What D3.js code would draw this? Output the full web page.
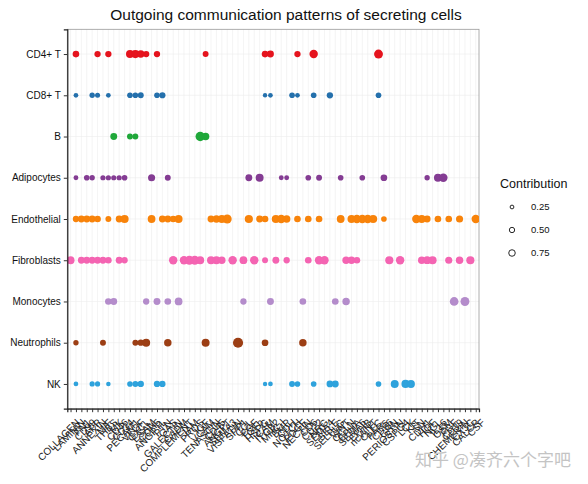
<!DOCTYPE html>
<html>
<head>
<meta charset="utf-8">
<script src="https://cdn.jsdelivr.net/npm/d3@7"></script>
<style>
  body { margin: 0; background: #fff; }
  svg { font-family: "Liberation Sans", Arial, sans-serif; }
</style>
</head>
<body>
<div id="chart"></div>
<script>
const cellTypes = ['CD4+ T', 'CD8+ T', 'B', 'Adipocytes', 'Endothelial', 'Fibroblasts', 'Monocytes', 'Neutrophils', 'NK'];
const cellColors = ['#E5131D', '#2470AC', '#20A83A', '#843C93', '#F8830A', '#F464B2', '#B48CCB', '#9C3E14', '#2EA2DC'];

const pathways = ['COLLAGEN', 'LAMININ', 'FN1', 'CD99', 'APP', 'ANNEXIN', 'MIF', 'THBS', 'MK', 'CD46',
  'CD34', 'PECAM1', 'VEGF', 'CXCL', 'ESAM', 'CDH5', 'ANGPTL', 'PTN', 'GAS', 'GALECTIN',
  'CADM', 'COMPLEMENT', 'JAM', 'PROS', 'IGF', 'VCAM', 'TENASCIN', 'CD45', 'ANGPT', 'SEMA3',
  'VISFATIN', 'SPP1', 'CCL', 'EGF', 'TGFb', 'HSPG', 'ICAM', 'ITGB2', 'MHC-I', 'BMP',
  'CDH', 'NOTCH', 'PDGF', 'NECTIN', 'CD6', 'CD22', 'NRG', 'SEMA4', 'SELE', 'SELPLG',
  'WNT', 'OCLN', 'EPHA', 'SEMA6', 'EPHB', 'ncWNT', 'CLEC', 'PARs', 'CD86', 'GRN',
  'PERIOSTIN', 'CSPG4', 'LCK', 'KIT', 'SN', 'CDH1', 'HGF', 'NGL', 'IL16', 'OSM',
  'FGF', 'CD39', 'CHEMERIN', 'CX3C', 'CALCR', 'CSF'];

// [pathway index, contribution]
const cd4T = [[1, .28], [5, .25], [7, .25], [11, .4], [12, .42], [13, .35], [14, .25], [16, .25], [25, .22],
  [36, .28], [37, .3], [42, .25], [45, .45], [57, .5]];
const cd8T = [[1, .14], [4, .18], [5, .16], [7, .14], [11, .2], [12, .2], [13, .22], [16, .2], [17, .24],
  [36, .12], [37, .14], [41, .2], [42, .14], [45, .2], [48, .25], [57, .2]];
const bCells = [[8, .3], [11, .22], [12, .22], [24, .55], [25, .35]];
const adipocytes = [[1, .15], [3, .2], [4, .18], [6, .17], [7, .17], [8, .17], [9, .17], [10, .2], [15, .32],
  [18, .22], [33, .3], [35, .4], [39, .15], [40, .15], [44, .2], [46, .22], [50, .2], [54, .2], [58, .28],
  [66, .18], [68, .4], [69, .45]];
const endothelial = [[1, .25], [2, .3], [3, .3], [4, .3], [5, .28], [7, .22], [9, .3], [10, .42], [15, .38],
  [17, .3], [18, .3], [19, .28], [20, .4], [26, .3], [27, .35], [28, .4], [29, .5], [33, .42], [35, .3],
  [36, .28], [38, .42], [39, .45], [40, .35], [42, .28], [44, .28], [46, .28], [50, .38], [52, .4], [53, .45],
  [54, .45], [55, .45], [56, .42], [58, .2], [64, .45], [65, .4], [66, .3], [68, .28], [70, .28], [72, .32],
  [75, .45]];
const fibroblasts = [[0, .4], [2, .3], [3, .3], [4, .3], [5, .3], [6, .3], [7, .28], [9, .3], [10, .25],
  [19, .45], [21, .45], [22, .5], [23, .5], [24, .4], [26, .4], [27, .42], [28, .35], [30, .45], [32, .38],
  [34, .45], [36, .22], [38, .3], [40, .25], [44, .28], [46, .45], [47, .45], [51, .35], [52, .35], [53, .28],
  [59, .42], [61, .45], [65, .35], [66, .38], [67, .42], [70, .32], [72, .35], [74, .42]];
const monocytes = [[7, .28], [8, .3], [14, .25], [16, .3], [18, .28], [20, .38], [32, .25], [37, .3],
  [43, .28], [49, .28], [51, .35], [71, .48], [73, .5]];
const neutrophils = [[1, .18], [6, .22], [12, .22], [13, .25], [14, .4], [18, .35], [25, .4], [31, .65],
  [36, .28], [43, .35]];
const nkCells = [[1, .14], [4, .17], [5, .17], [7, .13], [11, .2], [12, .22], [13, .25], [16, .25], [17, .25],
  [36, .12], [37, .14], [41, .22], [42, .2], [45, .2], [48, .28], [49, .3], [57, .2], [60, .4], [62, .42], [63, .4]];

const legendValues = [0.25, 0.50, 0.75];

const rows = [cd4T, cd8T, bCells, adipocytes, endothelial, fibroblasts, monocytes, neutrophils, nkCells];
const points = [];
rows.forEach((row, i) => {
  row.forEach(([p, v]) => points.push({ cell: cellTypes[i], pathway: pathways[p], value: v, color: cellColors[i] }));
});

const width = 588, height = 484;
const margin = { left: 67.3, right: 479, top: 29.3, bottom: 408.7 };

const svg = d3.select('#chart').append('svg')
  .attr('width', width)
  .attr('height', height);

const x = d3.scalePoint()
  .domain(pathways)
  .range([margin.left, margin.right])
  .padding(0.6);

const y = d3.scalePoint()
  .domain(cellTypes)
  .range([margin.top, margin.bottom])
  .padding(0.6);

const r = d3.scaleSqrt().domain([0, 1]).range([0, 6.3]);

// grid
const grid = svg.append('g');
grid.selectAll('.vgrid')
  .data(pathways)
  .enter().append('line')
  .attr('x1', d => x(d)).attr('x2', d => x(d))
  .attr('y1', margin.top).attr('y2', margin.bottom)
  .attr('stroke', '#ececec').attr('stroke-width', 0.6);
grid.selectAll('.hgrid')
  .data(cellTypes)
  .enter().append('line')
  .attr('x1', margin.left).attr('x2', margin.right)
  .attr('y1', d => y(d)).attr('y2', d => y(d))
  .attr('stroke', '#ececec').attr('stroke-width', 0.6);

// panel frame: light top/right, dark axis lines
svg.append('rect')
  .attr('x', margin.left).attr('y', margin.top)
  .attr('width', margin.right - margin.left).attr('height', margin.bottom - margin.top)
  .attr('fill', 'none').attr('stroke', '#999').attr('stroke-width', 0.8);

// points
svg.append('clipPath').attr('id', 'panel-clip')
  .append('rect')
  .attr('x', margin.left).attr('y', margin.top)
  .attr('width', margin.right - margin.left).attr('height', margin.bottom - margin.top);

svg.append('g')
  .attr('clip-path', 'url(#panel-clip)')
  .selectAll('circle')
  .data(points)
  .enter().append('circle')
  .attr('cx', d => x(d.pathway))
  .attr('cy', d => y(d.cell))
  .attr('r', d => r(d.value))
  .attr('fill', d => d.color);

// axes
const xAxis = svg.append('g')
  .attr('transform', `translate(0,${margin.bottom})`)
  .call(d3.axisBottom(x).tickSize(3.5).tickPadding(2));
xAxis.select('.domain').attr('stroke', '#222').attr('stroke-width', 1.2);
xAxis.selectAll('.tick line').attr('stroke', '#333');
xAxis.selectAll('text')
  .attr('font-size', 10)
  .attr('fill', '#222')
  .attr('text-anchor', 'end')
  .attr('dy', '0.35em')
  .attr('transform', 'translate(3,8) rotate(-45)');

const yAxis = svg.append('g')
  .attr('transform', `translate(${margin.left},0)`)
  .call(d3.axisLeft(y).tickSize(3.5).tickPadding(3));
yAxis.select('.domain').attr('stroke', '#222').attr('stroke-width', 1.2);
yAxis.selectAll('.tick line').attr('stroke', '#333');
yAxis.selectAll('text').attr('font-size', 10).attr('fill', '#111');

// title
svg.append('text')
  .attr('x', 286).attr('y', 20)
  .attr('text-anchor', 'middle')
  .attr('font-size', 15.5)
  .attr('fill', '#111')
  .text('Outgoing communication patterns of secreting cells');

// legend
const legend = svg.append('g').attr('transform', 'translate(500,188)');
legend.append('text')
  .attr('font-size', 12.5).attr('fill', '#111')
  .text('Contribution');
const items = legend.selectAll('.item')
  .data(legendValues)
  .enter().append('g')
  .attr('transform', (d, i) => `translate(12,${19 + i * 23})`);
items.append('circle')
  .attr('r', d => r(d) * 0.6)
  .attr('fill', 'none')
  .attr('stroke', '#111')
  .attr('stroke-width', 0.9);
items.append('text')
  .attr('x', 19).attr('dy', '0.35em')
  .attr('font-size', 9.5).attr('fill', '#111')
  .text(d => d.toFixed(2));

// watermark
svg.append('text')
  .attr('x', 415).attr('y', 466)
  .attr('font-family', '"Noto Sans CJK SC", sans-serif')
  .attr('font-size', 17)
  .attr('fill', '#c4c4c4')
  .text('知乎 @凑齐六个字吧');
</script>
</body>
</html>
